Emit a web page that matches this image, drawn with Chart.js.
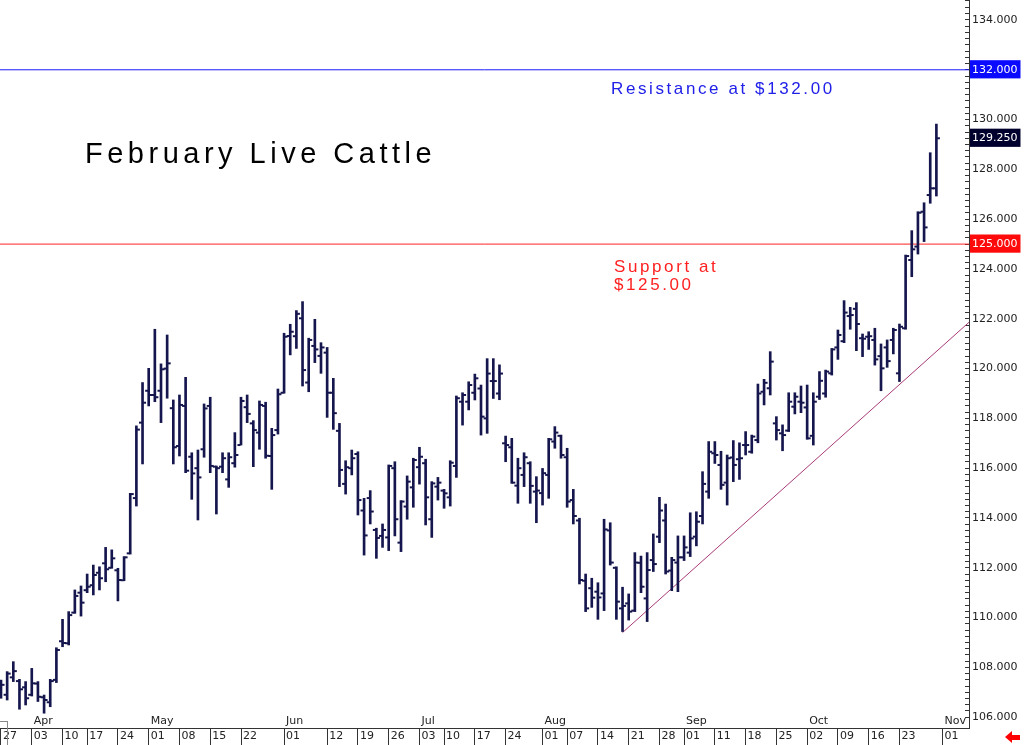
<!DOCTYPE html>
<html>
<head>
<meta charset="utf-8">
<script src="https://cdn.jsdelivr.net/npm/chart.js@4.4.1/dist/chart.umd.min.js"></script>
<style>
  html, body { margin: 0; padding: 0; background: #ffffff; }
  #wrap { width: 1024px; height: 745px; position: relative; }
</style>
</head>
<body>
<div id="wrap"><canvas id="c" width="1024" height="745"></canvas></div>
<script>
// ---- Data (trading-day index = position in arrays) ----
const opens = [107.0,106.9,107.6,107.45,107.2,106.9,107.35,106.8,106.6,107.5,
109.05,108.97,110.2,111.0,111.1,111.3,111.8,112.18,112.0,111.9,
111.5,112.58,114.8,117.83,119.11,118.94,119.11,120.0,118.41,116.89,
118.5,116.46,116.0,116.76,118.5,116.06,116.06,115.55,116.2,116.93,
118.45,117.8,117.43,118.5,116.49,117.53,119.03,121.31,121.3,122.02,
119.44,120.91,120.51,120.64,119.03,117.5,115.37,116.0,116.57,114.3,
114.8,113.52,113.28,113.22,116.0,113.01,114.46,115.23,116.04,116.2,
113.95,115.26,115.1,114.83,116.09,118.67,118.67,119.03,119.2,118.0,
119.5,119.0,117.0,116.84,115.3,115.73,116.2,115.06,115.0,115.73,
117.07,117.3,116.44,114.72,113.9,111.48,111.18,111.04,110.97,113.5,
112.0,110.37,110.57,110.28,112.2,110.77,112.31,113.25,113.9,111.89,
112.21,112.42,112.61,113.25,114.08,115.06,116.6,116.13,115.42,116.43,
116.36,116.93,116.66,117.13,119.07,119.21,117.8,117.4,117.51,118.47,
118.67,118.44,117.3,118.87,119.0,119.81,120.85,121.1,122.11,122.4,
121.22,121.28,121.15,120.5,120.85,121.15,119.81,121.62,124.36,124.9,
126.3,126.97,127.24];
const highs = [107.49,107.83,108.23,107.52,107.43,107.96,107.43,106.89,107.52,108.79,
109.93,110.24,111.11,111.27,111.75,112.11,112.04,112.82,112.72,111.98,
112.45,114.99,117.70,119.44,120.01,121.58,120.19,121.35,118.74,118.94,
119.65,116.62,116.73,118.58,118.85,116.09,116.62,116.62,117.43,118.85,
118.94,117.91,118.70,118.65,117.60,119.18,121.42,121.78,122.33,122.69,
121.22,121.98,121.04,120.85,119.61,117.80,116.30,116.73,116.66,114.79,
115.10,113.59,113.76,116.13,116.26,114.70,115.69,116.40,116.84,116.36,
115.46,115.63,115.15,116.30,118.90,119.03,119.47,119.78,119.34,120.4,
120.4,120.15,117.29,117.20,116.40,116.62,116.26,115.66,115.99,117.20,
117.67,117.33,116.80,115.15,113.99,111.75,111.58,111.40,113.95,113.81,
112.04,111.22,110.95,112.61,112.47,112.61,113.36,114.83,114.56,112.42,
113.28,113.28,114.21,114.25,115.86,117.07,117.07,116.68,116.53,117.11,
117.02,117.47,117.33,119.38,119.57,120.68,118.07,117.74,119.03,119.03,
119.30,119.34,119.03,119.88,119.94,120.81,121.55,122.73,122.46,122.65,
121.39,121.48,121.62,120.99,121.15,121.62,121.79,124.56,125.54,126.30,
126.66,128.67,129.82];
const lows = [106.76,106.69,107.43,106.32,106.49,106.85,106.63,106.16,106.42,107.39,
108.83,108.90,110.17,110.06,111.0,110.91,111.11,111.44,111.98,110.67,
111.48,112.55,114.48,116.17,118.50,118.67,117.83,118.81,116.17,116.49,
115.82,114.75,113.92,116.44,115.82,114.16,115.82,115.23,116.04,116.93,
117.83,116.06,116.76,116.40,115.15,117.37,119.01,120.55,120.81,119.30,
119.07,120.24,119.81,118.04,117.56,115.26,114.96,115.73,114.12,112.51,
113.76,112.38,112.82,112.69,113.28,112.65,113.95,114.43,115.36,113.72,
113.22,114.72,114.39,114.48,115.63,117.73,118.34,118.74,117.33,117.4,
118.8,118.75,116.26,115.39,114.59,115.26,114.59,113.81,114.52,114.79,
116.80,116.40,114.43,113.76,111.35,110.24,110.41,109.93,110.28,112.11,
109.93,109.44,109.90,110.24,111.00,109.84,111.85,113.01,111.75,111.08,
111.04,112.29,112.45,112.88,113.76,114.79,116.19,115.15,114.52,115.46,
115.55,116.53,116.6,117.02,118.54,118.94,117.13,116.70,117.47,118.18,
118.23,117.16,116.93,118.76,118.85,119.74,120.37,121.04,121.58,120.72,
120.48,120.77,120.14,119.11,120.05,120.59,119.48,121.58,123.69,124.60,
125.10,126.64,126.93];
const closes = [107.3,107.75,107.85,107.12,106.76,107.36,106.82,106.69,107.45,108.7,
108.98,110.1,110.87,110.6,111.24,111.71,111.58,111.94,112.38,111.51,
112.42,114.96,117.55,118.63,118.94,118.85,119.97,120.21,116.84,118.54,
115.90,115.79,115.63,118.4,116.09,116.0,116.40,116.44,116.53,118.7,
118.18,117.53,118.54,116.5,117.33,118.97,121.28,121.48,122.2,119.94,
121.15,120.77,120.85,119.03,118.21,115.93,116.04,116.40,114.72,113.3,
114.26,113.2,113.52,116.09,113.95,114.66,115.46,116.33,116.46,114.83,
115.39,115.42,114.99,116.22,118.81,118.94,119.34,119.61,118.07,119.8,
119.5,119.8,116.93,115.42,116.0,116.44,115.29,115.10,115.8,117.16,
117.43,116.53,114.66,114.08,111.51,110.37,110.8,110.81,113.54,112.21,
110.64,110.47,110.24,112.21,111.24,111.91,112.15,114.3,111.85,112.31,
112.42,112.82,113.18,113.85,115.37,116.66,116.53,115.33,116.4,116.13,
116.4,116.93,117.27,119.0,119.43,120.28,117.53,117.33,118.67,118.87,
118.63,117.2,118.67,119.51,119.88,120.77,121.35,122.25,122.15,121.79,
121.2,121.3,120.37,120.01,120.3,121.55,121.68,124.52,124.79,126.26,
125.67,127.24,129.25];

// x-axis tick labels: trading-day index, day number, month name
const tickIndex = [0,5,10,14,19,24,29,34,39,46,53,58,63,68,72,77,82,88,92,97,102,107,111,116,121,126,131,136,141,146,153];
const tickDay   = ['27','03','10','17','24','01','08','15','22','01','12','19','26','03','10','17','24','01','07','14','21','28','01','11','18','25','02','09','16','23','01'];
const monthIndex = [5,24,46,68,88,111,131,153];
const monthName  = ['Apr','May','Jun','Jul','Aug','Sep','Oct','Nov'];

// price levels
const resistanceLevel = 132;
const supportLevel = 125;
const lastPrice = 129.25;
const trendFrom = [101, 109.40];
const trendTo   = [157.3, 121.86];

// axis ranges
const xRange = [-0.1625, 157.3];
const yRange = [105.566, 134.803];

const titleText = 'February Live Cattle';
const resistanceText = 'Resistance at $132.00';
const supportText = ['Support at', '$125.00'];

// ---- Build datasets ----
const idx = opens.map((_, i) => i);
const barData = idx.map(i => ({ x: i, y: [lows[i], highs[i]] }));
const openData = idx.map(i => ({ x: i - 0.33, y: opens[i] }));
const closeData = idx.map(i => ({ x: i + 0.33, y: closes[i] }));

const BAR = '#16164e';
const highlight = {};
highlight[resistanceLevel] = '#0a0aff';
highlight[supportLevel] = '#ff0a0a';
highlight[lastPrice] = '#00002e';

function hlKey(v) {
  return Object.keys(highlight).find(k => Math.abs(+k - v) < 1e-6);
}
function isHighlight(v) { return hlKey(v) !== undefined; }
function hlColor(v) {
  const k = hlKey(v);
  return k ? highlight[k] : 'rgba(0,0,0,0)';
}

const annotPlugin = {
  id: 'annot',
  afterDraw(chart) {
    const c = chart.ctx;
    c.save();
    c.textBaseline = 'alphabetic';
    c.textAlign = 'left';
    // title
    c.fillStyle = '#000000';
    c.font = '29px "Liberation Sans"';
    c.letterSpacing = '4.5px';
    c.fillText(titleText, 85, 163);
    // resistance
    c.fillStyle = '#2020e8';
    c.font = '17px "Liberation Sans"';
    c.letterSpacing = '2.6px';
    c.fillText(resistanceText, 611, 94);
    // support
    c.fillStyle = '#ff2020';
    c.fillText(supportText[0], 614, 272);
    c.fillText(supportText[1], 614, 290);
    c.letterSpacing = '0px';
    // red arrow bottom right
    c.fillStyle = '#ff0000';
    c.beginPath();
    c.moveTo(1005, 737);
    c.lineTo(1012, 731);
    c.lineTo(1012, 735);
    c.lineTo(1020, 735);
    c.lineTo(1020, 740);
    c.lineTo(1012, 740);
    c.lineTo(1012, 743);
    c.closePath();
    c.fill();
    // small box bottom-left
    c.strokeStyle = '#888';
    c.lineWidth = 1;
    c.strokeRect(-0.5, 721.5, 8, 26);
    c.restore();
  }
};

new Chart(document.getElementById('c'), {
  type: 'bar',
  data: {
    datasets: [
      { type: 'bar', data: barData, backgroundColor: BAR, borderWidth: 0, barThickness: 2, grouped: false, order: 1 },
      { type: 'line', data: openData, showLine: false, pointStyle: 'line', pointRadius: 1.5, pointBorderWidth: 2, pointBorderColor: BAR, borderColor: BAR, order: 0 },
      { type: 'line', data: closeData, showLine: false, pointStyle: 'line', pointRadius: 1.5, pointBorderWidth: 2, pointBorderColor: BAR, borderColor: BAR, order: 0 },
      { type: 'line', data: [{x: xRange[0], y: resistanceLevel}, {x: xRange[1], y: resistanceLevel}], borderColor: '#1a1aff', borderWidth: 1, pointRadius: 0, order: 5 },
      { type: 'line', data: [{x: xRange[0], y: supportLevel}, {x: xRange[1], y: supportLevel}], borderColor: '#ff2020', borderWidth: 1, pointRadius: 0, order: 5 },
      { type: 'line', data: [{x: trendFrom[0], y: trendFrom[1]}, {x: trendTo[0], y: trendTo[1]}], borderColor: '#a83a78', borderWidth: 1, pointRadius: 0, order: 5 }
    ]
  },
  options: {
    responsive: false,
    animation: false,
    layout: { padding: 0, autoPadding: false },
    plugins: { legend: { display: false }, tooltip: { enabled: false } },
    scales: {
      x: {
        type: 'linear', position: 'bottom', min: xRange[0], max: xRange[1], offset: false,
        grid: { offset: false, drawOnChartArea: false, drawTicks: true, tickLength: 17, color: '#333', lineWidth: 1 },
        border: { display: true, color: '#333', width: 1 },
        afterBuildTicks: s => { s.ticks = tickIndex.map(v => ({ value: v })); },
        afterFit: s => { s.height = 17; s.paddingLeft = 0; s.paddingRight = 0; },
        ticks: {
          autoSkip: false, maxRotation: 0, minRotation: 0, align: 'start', labelOffset: 2,
          mirror: true, padding: -0.5,
          font: { family: 'DejaVu Sans', size: 11, lineHeight: 1.36 }, color: '#222',
          callback: (v) => {
            const k = tickIndex.indexOf(v);
            const m = monthIndex.indexOf(v);
            return [m >= 0 ? monthName[m] : '', k >= 0 ? tickDay[k] : ''];
          }
        }
      },
      y: {
        type: 'linear', position: 'right', min: yRange[0], max: yRange[1],
        grid: { drawOnChartArea: false, drawTicks: true, tickLength: -4, color: '#333', lineWidth: 1 },
        border: { display: true, color: '#333', width: 1 },
        afterFit: s => { s.width = 55; s.paddingTop = 0; s.paddingBottom = 0; },
        ticks: {
          stepSize: 0.25, maxTicksLimit: 1000, autoSkip: false, padding: 7,
          font: { family: 'DejaVu Sans', size: 11 },
          color: ctx => isHighlight(ctx.tick.value) ? '#ffffff' : '#222',
          showLabelBackdrop: ctx => isHighlight(ctx.tick.value),
          backdropColor: ctx => hlColor(ctx.tick.value),
          backdropPadding: { top: 3, bottom: 2, left: 2, right: 3 },
          callback: (v) => {
            if (isHighlight(v) || Math.abs(v / 2 - Math.round(v / 2)) < 1e-6) return v.toFixed(3);
            return '';
          }
        }
      }
    }
  },
  plugins: [annotPlugin]
});
</script>
</body>
</html>
